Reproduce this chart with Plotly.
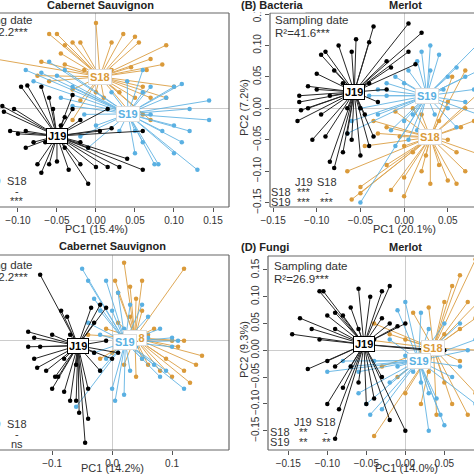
import plotly.graph_objects as go

W = 474
COL = {"J19": "#000000", "S18": "#DA9A3A", "S19": "#5AB0E2"}

# ---- Panel A (Bacteria, Cabernet Sauvignon)
A_J19 = [(-0.096,0.04),(-0.088,0.042),(-0.12,0.005),(-0.118,-0.005),(-0.105,0.0),(-0.11,-0.04),(-0.1,-0.045),(-0.09,-0.04),(-0.08,-0.06),(-0.075,-0.1),(-0.06,-0.1),(-0.07,-0.115),(-0.05,-0.095),(-0.035,-0.11),(-0.01,-0.135),(-0.02,-0.1),(0.0,-0.105),(0.015,-0.105),(0.03,-0.105),(0.06,-0.11),(0.04,-0.09),(0.06,-0.04),(0.02,-0.035),(0.005,-0.04),(-0.02,-0.02),(-0.04,-0.015),(-0.055,0.0),(-0.06,0.02),(-0.03,0.025),(-0.02,-0.06),(-0.04,-0.07),(-0.065,-0.06),(-0.09,-0.07),(-0.03,0.0),(0.015,0.0),(-0.07,0.04),(-0.045,-0.03),(-0.01,-0.07)]
A_S18 = [(0.0,0.155),(-0.06,0.135),(-0.05,0.135),(-0.04,0.115),(-0.045,0.1),(-0.03,0.12),(-0.02,0.12),(-0.04,0.08),(-0.07,0.085),(-0.075,0.06),(-0.06,0.05),(-0.03,0.035),(-0.02,0.015),(0.0,0.03),(0.01,0.02),(0.03,0.03),(0.05,0.02),(0.07,0.02),(0.09,0.02),(0.06,0.04),(0.065,0.07),(0.085,0.08),(0.07,0.09),(0.05,0.13),(0.055,0.12),(0.035,0.135),(0.02,0.12),(0.09,0.115),(0.045,0.075),(-0.015,0.07),(0.02,0.07),(0.1,0.04),(0.06,-0.01),(0.07,-0.02),(-0.03,-0.02),(0.04,0.0),(-0.15,0.095)]
A_S19 = [(-0.09,0.07),(-0.07,0.065),(-0.05,0.06),(-0.08,0.05),(-0.03,0.04),(-0.045,0.02),(-0.03,0.005),(-0.015,-0.01),(-0.02,-0.05),(-0.01,-0.07),(0.0,-0.03),(0.03,-0.04),(0.05,-0.04),(0.05,-0.08),(0.075,-0.1),(0.08,-0.1),(0.1,-0.08),(0.13,-0.11),(0.11,-0.06),(0.1,-0.03),(0.12,-0.04),(0.145,-0.02),(0.145,0.015),(0.12,0.0),(0.1,0.04),(0.11,0.045),(0.09,0.02),(0.07,0.04),(0.06,0.03),(0.06,0.07),(0.04,0.05),(0.02,0.03),(0.03,0.0),(0.07,-0.01),(0.085,-0.04),(0.06,-0.06),(-0.06,0.085),(-0.04,0.07)]
A_CENT = {"J19": (-0.050,-0.049), "S18": (0.005,0.058), "S19": (0.041,-0.009)}

# ---- Panel B (Bacteria, Merlot)
B_J19 = [(-0.12,0.02),(-0.12,0.01),(-0.122,-0.02),(-0.118,-0.003),(-0.11,0.0),(-0.1,0.03),(-0.095,-0.01),(-0.105,-0.05),(-0.09,-0.045),(-0.085,-0.085),(-0.08,-0.095),(-0.07,-0.07),(-0.065,-0.04),(-0.06,-0.05),(-0.05,-0.075),(-0.04,-0.06),(-0.035,-0.045),(-0.045,-0.01),(-0.03,0.01),(-0.02,0.03),(-0.015,0.065),(-0.02,0.075),(0.005,0.09),(0.005,0.135),(0.02,0.12),(-0.035,0.13),(-0.04,0.105),(-0.055,0.11),(-0.06,0.09),(-0.075,0.1),(-0.09,0.09),(-0.095,0.085),(-0.08,0.06),(-0.1,0.055),(-0.11,0.035),(-0.07,0.04),(-0.04,0.04),(-0.05,0.0),(-0.065,0.0),(-0.085,0.02),(0.013,0.07)]
B_S19 = [(-0.065,-0.04),(-0.06,-0.02),(-0.05,-0.15),(-0.05,0.0),(-0.04,0.02),(-0.03,0.03),(-0.02,0.04),(-0.01,0.05),(0.0,0.04),(0.005,0.06),(0.015,0.075),(0.02,0.09),(0.03,0.1),(0.04,0.085),(0.03,0.06),(0.05,0.05),(0.06,0.065),(0.07,0.05),(0.08,0.03),(0.07,0.01),(0.05,0.0),(0.035,-0.01),(0.01,-0.01),(0.0,-0.02),(-0.015,-0.035),(-0.01,-0.06),(0.005,-0.05),(0.015,-0.035),(0.09,0.11),(0.085,-0.01),(0.06,-0.03),(-0.02,0.02),(0.045,0.03),(-0.03,-0.01),(0.1,0.07)]
B_S18 = [(-0.065,-0.1),(-0.05,-0.125),(-0.05,-0.135),(-0.06,-0.145),(-0.045,-0.06),(-0.03,-0.04),(-0.02,-0.03),(-0.02,-0.09),(-0.015,-0.13),(0.0,-0.14),(0.0,-0.11),(0.01,-0.07),(0.02,-0.1),(0.03,-0.12),(0.04,-0.09),(0.05,-0.115),(0.06,-0.12),(0.07,-0.1),(0.06,-0.07),(0.05,-0.05),(0.065,-0.03),(0.08,-0.02),(0.07,0.0),(0.05,0.01),(0.04,-0.02),(0.02,-0.01),(0.01,0.0),(-0.01,-0.005),(-0.035,-0.02),(0.0,-0.06),(0.025,-0.075),(0.055,0.05),(0.07,0.06),(0.1,-0.08),(0.09,0.03),(-0.005,-0.045)]
B_CENT = {"J19": (-0.057,0.026), "S18": (0.030,-0.046), "S19": (0.026,0.02)}

# ---- Panel C (Fungi, Cabernet Sauvignon)
C_J19 = [(-0.12,0.11),(-0.085,0.05),(-0.075,0.04),(-0.14,0.015),(-0.13,0.005),(-0.14,-0.01),(-0.12,-0.01),(-0.13,-0.03),(-0.125,-0.045),(-0.11,-0.05),(-0.095,-0.06),(-0.09,-0.06),(-0.1,-0.08),(-0.08,-0.085),(-0.07,-0.1),(-0.055,-0.12),(-0.04,-0.13),(-0.045,-0.17),(-0.06,-0.1),(-0.04,-0.08),(-0.02,-0.05),(-0.03,-0.02),(-0.01,0.0),(-0.03,0.03),(-0.02,0.06),(-0.01,0.055),(-0.035,0.055),(-0.07,0.01),(-0.1,0.01),(-0.06,-0.04),(0.01,-0.02),(0.0,-0.03),(-0.08,-0.03)]
C_S19 = [(-0.05,0.12),(-0.04,0.1),(-0.03,0.07),(-0.02,0.05),(-0.04,0.03),(-0.02,0.01),(-0.03,-0.02),(-0.02,-0.05),(0.0,-0.08),(0.005,-0.1),(0.02,-0.09),(0.03,-0.05),(0.05,-0.03),(0.07,-0.04),(0.08,-0.06),(0.09,-0.05),(0.1,-0.01),(0.11,0.0),(0.1,0.005),(0.08,0.02),(0.06,0.04),(0.05,0.06),(0.03,0.06),(0.01,0.08),(-0.01,0.1),(0.0,0.05),(0.02,0.02),(0.04,-0.01),(-0.06,-0.11),(0.06,0.005),(0.12,-0.08),(-0.01,-0.03)]
C_S18 = [(0.02,0.13),(0.005,0.1),(0.01,0.08),(0.03,0.09),(0.04,0.07),(0.05,0.05),(0.12,0.12),(0.07,0.02),(0.1,0.0),(0.12,0.0),(0.15,-0.025),(0.14,-0.04),(0.12,-0.05),(0.13,-0.07),(0.1,-0.06),(0.08,-0.05),(0.06,-0.04),(0.05,-0.03),(0.04,-0.06),(0.02,-0.04),(0.0,-0.02),(-0.02,-0.03),(-0.01,0.02),(0.01,0.03),(0.03,0.04),(0.06,0.01),(0.09,-0.03),(0.11,-0.01),(0.05,0.1),(-0.04,0.01)]
C_CENT = {"J19": (-0.057,-0.008), "S18": (0.038,0.005), "S19": (0.022,-0.002)}

# ---- Panel D (Fungi, Merlot)
D_J19 = [(-0.145,0.03),(-0.135,0.06),(-0.125,-0.035),(-0.11,0.11),(-0.105,0.11),(-0.1,0.065),(-0.09,0.07),(-0.08,0.065),(-0.07,0.08),(-0.06,0.115),(-0.045,0.1),(-0.03,0.11),(-0.02,0.12),(-0.03,0.06),(-0.02,0.05),(-0.01,0.045),(0.0,0.05),(-0.04,0.02),(-0.06,0.04),(-0.09,0.04),(-0.12,0.04),(-0.11,0.02),(-0.1,-0.02),(-0.09,-0.03),(-0.1,-0.1),(-0.09,-0.165),(-0.08,-0.07),(-0.07,-0.03),(-0.06,-0.06),(-0.05,-0.1),(-0.04,-0.09),(-0.02,-0.13),(0.0,-0.15),(-0.03,-0.05),(-0.085,-0.11),(0.03,0.0),(0.05,0.0)]
D_S19 = [(-0.1,-0.04),(-0.08,-0.02),(-0.07,-0.03),(-0.06,-0.04),(-0.05,-0.1),(-0.045,-0.12),(-0.03,-0.11),(-0.02,-0.06),(-0.01,-0.03),(0.0,-0.01),(0.01,-0.04),(0.02,-0.06),(0.03,-0.08),(0.04,-0.09),(0.045,-0.12),(0.05,-0.14),(0.03,-0.15),(0.06,-0.05),(0.07,-0.03),(0.08,0.0),(0.09,0.02),(0.07,0.05),(0.05,0.05),(0.03,0.04),(0.0,0.09),(-0.01,0.075),(0.02,0.07),(0.04,0.01),(-0.04,-0.02),(-0.02,0.02),(0.09,-0.1),(-0.06,-0.08)]
D_S18 = [(0.09,0.17),(0.07,0.14),(0.06,0.12),(0.05,0.09),(0.08,0.09),(0.09,0.06),(0.07,0.04),(0.05,0.03),(0.03,0.08),(0.01,0.07),(0.0,0.02),(-0.02,0.03),(-0.04,0.05),(-0.05,0.02),(-0.03,-0.03),(-0.01,-0.05),(0.0,-0.08),(0.02,-0.1),(0.04,-0.12),(0.06,-0.1),(0.08,-0.12),(0.09,-0.08),(0.05,-0.06),(0.03,-0.04),(-0.04,-0.16),(0.07,-0.02),(0.1,0.0),(0.02,0.0),(0.1,0.1)]
D_CENT = {"J19": (-0.053,0.011), "S18": (0.036,0.004), "S19": (0.017,-0.019)}

R2 = ["R²=32.2***", "R²=41.6***", "R²=22.2***", "R²=26.9***"]
PC1 = ["PC1 (15.4%)", "PC1 (20.1%)", "PC1 (14.2%)", "PC1 (14.0%)"]
PC2 = [None, "PC2 (7.2%)", None, "PC2 (9.3%)"]

def px(x): return x / W
def py(y): return 1 - y / W

panels = [
    dict(g={"S18": A_S18, "S19": A_S19, "J19": A_J19}, c=A_CENT, dom=([0, 229], [13, 207]),
         xr=[-0.123, 0.1705], yr=[-0.177, 0.173], xt=[-0.10,-0.05,0,0.05,0.10,0.15], fmt=".2f", side="R", yt=None),
    dict(g={"S18": B_S18, "S19": B_S19, "J19": B_J19}, c=B_CENT, dom=([270, 474], [13, 207]),
         xr=[-0.1535, 0.080], yr=[-0.157, 0.1516], xt=[-0.15,-0.10,-0.05,0,0.05], fmt=".2f", side="L",
         yt=[-0.15,-0.10,-0.05,0,0.05,0.10,0.15]),
    dict(g={"S18": C_S18, "S19": C_S19, "J19": C_J19}, c=C_CENT, dom=([0, 229], [255, 450]),
         xr=[-0.187, 0.195], yr=[-0.182, 0.143], xt=[-0.1,0,0.1], fmt=".1f", side="R", yt=None),
    dict(g={"S18": D_S18, "S19": D_S19, "J19": D_J19}, c=D_CENT, dom=([268, 474], [256, 450]),
         xr=[-0.176, 0.088], yr=[-0.186, 0.176], xt=[-0.15,-0.10,-0.05,0,0.05], fmt=".2f", side="L",
         yt=[-0.15,-0.10,-0.05,0,0.05,0.10,0.15]),
]

fig = go.Figure()
ann = []
shapes = []
F = "Liberation Sans, Arial"
tickfont = dict(family=F, size=10, color="#333")
for i, p in enumerate(panels):
    n = "" if i == 0 else str(i + 1)
    xa, ya = "x" + n, "y" + n
    for grp in ["S18", "S19", "J19"]:
        pts = p["g"][grp]
        cx, cy = p["c"][grp]
        lx, ly = [], []
        for (x, y) in pts:
            lx += [cx, x, None]; ly += [cy, y, None]
        fig.add_trace(go.Scatter(x=lx, y=ly, mode="lines", xaxis=xa, yaxis=ya,
                                 line=dict(color=COL[grp], width=1), opacity=0.85,
                                 showlegend=False, hoverinfo="skip"))
        fig.add_trace(go.Scatter(x=[q[0] for q in pts], y=[q[1] for q in pts], mode="markers",
                                 xaxis=xa, yaxis=ya, marker=dict(color=COL[grp], size=4.5),
                                 showlegend=False))
    for grp in ["J19", "S18", "S19"]:
        cx, cy = p["c"][grp]
        ann.append(dict(x=cx, y=cy, xref=xa, yref=ya, text="<b>%s</b>" % grp, showarrow=False,
                        font=dict(family=F, size=11, color=COL[grp]),
                        bgcolor="white", bordercolor=COL[grp] if grp == "J19" else "#dddddd",
                        borderwidth=1, borderpad=1))
    (x0, x1), (t, b) = p["dom"]
    fig.layout["xaxis" + n] = dict(domain=[px(x0), px(x1)], range=p["xr"], anchor=ya,
                                   tickvals=p["xt"], tickformat=p["fmt"], ticks="outside",
                                   ticklen=4, tickcolor="#555", showgrid=False, zeroline=True,
                                   zerolinecolor="#cccccc", zerolinewidth=1, tickfont=tickfont,
                                   showline=False, automargin=False)
    yd = dict(domain=[py(b), py(t)], range=p["yr"], anchor=xa, showgrid=False, zeroline=True,
              zerolinecolor="#cccccc", zerolinewidth=1, showline=False, automargin=False)
    if p["yt"]:
        yd.update(tickvals=p["yt"], tickformat=".2f", ticks="outside", ticklen=4, tickcolor="#555",
                  tickangle=-90, tickfont=tickfont)
    else:
        yd.update(showticklabels=False, ticks="")
    fig.layout["yaxis" + n] = yd
    lc = dict(color="#666", width=1.2)
    shapes.append(dict(type="line", xref="paper", yref="paper", x0=px(x0), x1=px(x1), y0=py(t), y1=py(t), line=lc))
    shapes.append(dict(type="line", xref="paper", yref="paper", x0=px(x0), x1=px(x1), y0=py(b), y1=py(b), line=lc))
    sx = x1 if p["side"] == "R" else x0
    shapes.append(dict(type="line", xref="paper", yref="paper", x0=px(sx), x1=px(sx), y0=py(t), y1=py(b), line=lc))

def txt(x, y, s, size=11, bold=False, xanchor="center", color="#333", angle=0, bg=None):
    d = dict(x=px(x), y=py(y), xref="paper", yref="paper", text=("<b>%s</b>" % s) if bold else s,
             showarrow=False, xanchor=xanchor, yanchor="middle", textangle=angle,
             font=dict(family=F, size=size, color=color))
    if bg:
        d["bgcolor"] = bg
    ann.append(d)

txt(100, 5, "Cabernet Sauvignon", 11, True, color="#222")
txt(239, 5, "(B) Bacteria", 11, True, "left", "#222", bg="white")
txt(405, 5, "Merlot", 11, True, color="#222")
txt(112, 246, "Cabernet Sauvignon", 11, True, color="#222")
txt(239, 247, "(D) Fungi", 11, True, "left", "#222")
txt(405, 247, "Merlot", 11, True, color="#222")
txt(35, 20, "Sampling date", 11.5, xanchor="right")
txt(30, 32, R2[0], 11.5, xanchor="right")
txt(273, 20, "Sampling date", 11.5, xanchor="left")
txt(273, 33, R2[1], 11.5, xanchor="left")
txt(35, 265, "Sampling date", 11.5, xanchor="right")
txt(30, 277, R2[2], 11.5, xanchor="right")
txt(272, 266, "Sampling date", 11.5, xanchor="left")
txt(272, 279, R2[3], 11.5, xanchor="left")
txt(96, 229, PC1[0], 11); txt(404, 229, PC1[1], 11)
txt(112, 468, PC1[2], 11); txt(406, 468, PC1[3], 11)
txt(244, 108, PC2[1], 11, angle=-90); txt(244, 350, PC2[3], 11, angle=-90)

def table(xl, xc1, xc2, y0, r1, r2):
    txt(xc1, y0, "J19"); txt(xc2, y0, "S18")
    txt(xl, y0 + 10, "S18"); txt(xc1, y0 + 10, r1[0]); txt(xc2, y0 + 10, r1[1])
    txt(xl, y0 + 20, "S19"); txt(xc1, y0 + 20, r2[0]); txt(xc2, y0 + 20, r2[1])
table(-38, -8, 17, 181, ["***", "-"], ["***", "***"])
table(281, 304, 327, 182, ["***", "-"], ["***", "***"])
table(-38, -8, 17, 424, ["***", "-"], ["***", "ns"])
table(280, 303, 326, 422, ["**", "-"], ["**", "**"])

fig.update_layout(template="none", width=W, height=W, margin=dict(l=0, r=0, t=0, b=0),
                  paper_bgcolor="white", plot_bgcolor="white", annotations=ann, shapes=shapes,
                  showlegend=False)
fig.write_html("out.html", config={"displayModeBar": False},
               post_script="document.body.style.margin='0';document.body.style.overflow='hidden';")
